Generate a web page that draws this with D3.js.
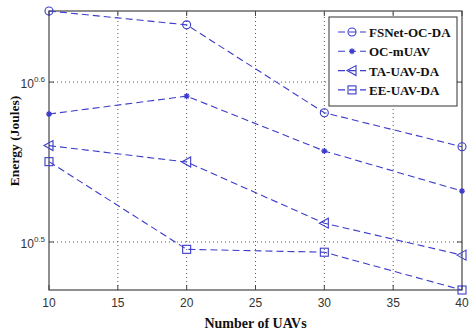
<!DOCTYPE html>
<html><head><meta charset="utf-8">
<script src="https://cdn.jsdelivr.net/npm/d3@7"></script>
<style>
body{margin:0;background:#fff;}
svg{display:block;}
</style></head>
<body>
<script>
const xValues = [10, 20, 30, 40];
const seriesNames = ["FSNet-OC-DA", "OC-mUAV", "TA-UAV-DA", "EE-UAV-DA"];
const fsnet = [4.41, 4.323, 3.809, 3.627];
const ocmuav = [3.802, 3.901, 3.605, 3.403];
const tauav = [3.633, 3.548, 3.249, 3.103];
const eeuav = [3.550, 3.129, 3.116, 2.951];
const markers = ["circle", "star", "triangleLeft", "square"];
const xTicks = [10, 15, 20, 25, 30, 35, 40];
const yTickExps = ["0.5", "0.6"];

const W = 474, H = 334;
const m = {left: 49, right: 12, top: 11, bottom: 44};
const allSeries = [fsnet, ocmuav, tauav, eeuav];
const allVals = allSeries.flat();
const color = "#3b3bcc";
const axisColor = "#444";

const svg = d3.select("body").append("svg").attr("width", W).attr("height", H);
const x = d3.scaleLinear().domain([10, 40]).range([m.left, W - m.right]);
const y = d3.scaleLog().domain([d3.min(allVals), d3.max(allVals)]).range([H - m.bottom, m.top]);

const x0 = m.left, x1 = W - m.right, y0 = H - m.bottom, y1 = m.top;

// grid
const g = svg.append("g");
g.selectAll(".vg").data(xTicks.slice(1, -1)).enter().append("line")
  .attr("x1", d => x(d)).attr("x2", d => x(d)).attr("y1", y0).attr("y2", y1)
  .attr("stroke", "#555").attr("stroke-width", 1).attr("stroke-dasharray", "1,3");
g.selectAll(".hg").data(yTickExps).enter().append("line")
  .attr("x1", x0).attr("x2", x1).attr("y1", d => y(Math.pow(10, +d))).attr("y2", d => y(Math.pow(10, +d)))
  .attr("stroke", "#555").attr("stroke-width", 1).attr("stroke-dasharray", "1,3");

// axes box
svg.append("rect").attr("x", x0).attr("y", y1).attr("width", x1 - x0).attr("height", y0 - y1)
  .attr("fill", "none").attr("stroke", axisColor).attr("stroke-width", 1.2);

// ticks inward
const tl = 5;
xTicks.forEach(t => {
  svg.append("line").attr("x1", x(t)).attr("x2", x(t)).attr("y1", y0).attr("y2", y0 - tl).attr("stroke", axisColor);
  svg.append("line").attr("x1", x(t)).attr("x2", x(t)).attr("y1", y1).attr("y2", y1 + tl).attr("stroke", axisColor);
});
yTickExps.forEach(e => {
  const yy = y(Math.pow(10, +e));
  svg.append("line").attr("x1", x0).attr("x2", x0 + tl).attr("y1", yy).attr("y2", yy).attr("stroke", axisColor);
  svg.append("line").attr("x1", x1).attr("x2", x1 - tl).attr("y1", yy).attr("y2", yy).attr("stroke", axisColor);
});

// x tick labels
const tickFont = "'Liberation Sans Narrow', 'Liberation Sans', Arial, sans-serif";
svg.selectAll(".xt").data(xTicks).enter().append("text")
  .attr("x", d => x(d)).attr("y", y0 + 17).attr("text-anchor", "middle")
  .attr("font-family", tickFont).attr("font-size", 12).attr("fill", "#333").text(d => d);

// y tick labels
yTickExps.forEach(e => {
  const yy = y(Math.pow(10, +e));
  const t = svg.append("text").attr("x", x0 - 4).attr("y", yy + 6).attr("text-anchor", "end")
    .attr("font-family", tickFont).attr("font-size", 12).attr("fill", "#333");
  t.append("tspan").text("10");
  t.append("tspan").attr("dy", -6).attr("font-size", 8).text(e);
});

// axis labels
svg.append("text").attr("x", (x0 + x1) / 2).attr("y", H - 6).attr("text-anchor", "middle")
  .attr("font-family", "'Liberation Serif', 'Times New Roman', serif").attr("font-weight", "bold")
  .attr("font-size", 14).attr("fill", "#111").text("Number of UAVs");
svg.append("text").attr("transform", `translate(19,141) rotate(-90)`).attr("text-anchor", "middle")
  .attr("font-family", "'Liberation Serif', 'Times New Roman', serif").attr("font-weight", "bold")
  .attr("font-size", 13.5).attr("fill", "#111").text("Energy (Joules)");

// marker drawing
function drawMarker(sel, type, cx, cy) {
  if (type === "circle") {
    sel.append("circle").attr("cx", cx).attr("cy", cy).attr("r", 4).attr("fill", "none").attr("stroke", color).attr("stroke-width", 1.1);
  } else if (type === "square") {
    sel.append("rect").attr("x", cx - 4).attr("y", cy - 4).attr("width", 8).attr("height", 8).attr("fill", "none").attr("stroke", color).attr("stroke-width", 1.1);
  } else if (type === "triangleLeft") {
    sel.append("path").attr("d", `M${cx - 5},${cy} L${cx + 4},${cy - 5} L${cx + 4},${cy + 5} Z`).attr("fill", "none").attr("stroke", color).attr("stroke-width", 1.1);
  } else if (type === "star") {
    const r = 3;
    const p = `M${cx - r},${cy} L${cx + r},${cy} M${cx},${cy - r} L${cx},${cy + r} M${cx - r * 0.7},${cy - r * 0.7} L${cx + r * 0.7},${cy + r * 0.7} M${cx - r * 0.7},${cy + r * 0.7} L${cx + r * 0.7},${cy - r * 0.7}`;
    sel.append("path").attr("d", p).attr("fill", "none").attr("stroke", color).attr("stroke-width", 1.3);
  }
}

const line = d3.line().x((d, i) => x(xValues[i])).y(d => y(d));
allSeries.forEach((s, k) => {
  svg.append("path").datum(s).attr("d", line).attr("fill", "none").attr("stroke", color)
    .attr("stroke-width", 1.1).attr("stroke-dasharray", "7,4");
  const mg = svg.append("g");
  s.forEach((v, i) => drawMarker(mg, markers[k], x(xValues[i]), y(v)));
});

// legend
const lg = svg.append("g");
lg.append("rect").attr("x", 329).attr("y", 17).attr("width", 128).attr("height", 89)
  .attr("fill", "#fff").attr("stroke", axisColor).attr("stroke-width", 1.1);
seriesNames.forEach((n, k) => {
  const ly = 32 + k * 19.3;
  lg.append("line").attr("x1", 338).attr("x2", 366).attr("y1", ly).attr("y2", ly)
    .attr("stroke", color).attr("stroke-width", 1.1).attr("stroke-dasharray", "7,4");
  drawMarker(lg, markers[k], 352, ly);
  lg.append("text").attr("x", 369).attr("y", ly + 5).attr("font-family", "'Liberation Serif', 'Times New Roman', serif")
    .attr("font-weight", "bold").attr("font-size", 13).attr("fill", "#111").text(n);
});
</script>
</body></html>
